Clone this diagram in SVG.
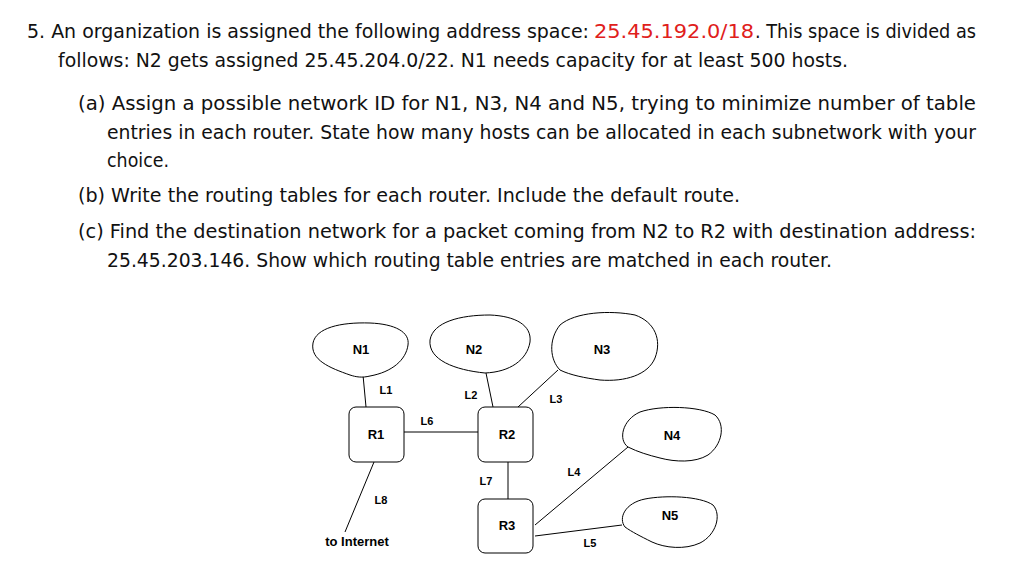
<svg xmlns="http://www.w3.org/2000/svg" width="1024" height="572" viewBox="0 0 1024 572">
<style>
.t{font-family:"DejaVu Sans","Liberation Sans",sans-serif;font-size:19px;fill:#111}
.r{fill:#e0201b}
.n{font-family:"Liberation Sans",Arial,sans-serif;font-size:13px;font-weight:bold;text-anchor:middle;fill:#000}
.l{font-family:"Liberation Sans",Arial,sans-serif;font-size:11px;font-weight:bold;text-anchor:middle;fill:#000}
.b{fill:#fff;stroke:#000;stroke-width:1}
.c line{stroke:#000;stroke-width:1}
</style>
<rect width="1024" height="572" fill="#fff"/>
<text class="t" x="27" y="38" textLength="562" lengthAdjust="spacingAndGlyphs">5. An organization is assigned the following address space:</text>
<text class="t r" x="594" y="38" textLength="160" lengthAdjust="spacingAndGlyphs">25.45.192.0/18</text>
<text class="t" x="755" y="38" textLength="221" lengthAdjust="spacingAndGlyphs">. This space is divided as</text>
<text class="t" x="58" y="67" textLength="790" lengthAdjust="spacingAndGlyphs">follows: N2 gets assigned 25.45.204.0/22. N1 needs capacity for at least 500 hosts.</text>
<text class="t" x="78" y="110" textLength="898" lengthAdjust="spacingAndGlyphs">(a) Assign a possible network ID for N1, N3, N4 and N5, trying to minimize number of table</text>
<text class="t" x="107" y="139" textLength="869" lengthAdjust="spacingAndGlyphs">entries in each router. State how many hosts can be allocated in each subnetwork with your</text>
<text class="t" x="107" y="167" textLength="62" lengthAdjust="spacingAndGlyphs">choice.</text>
<text class="t" x="78" y="202" textLength="662" lengthAdjust="spacingAndGlyphs">(b) Write the routing tables for each router. Include the default route.</text>
<text class="t" x="78" y="238" textLength="898" lengthAdjust="spacingAndGlyphs">(c) Find the destination network for a packet coming from N2 to R2 with destination address:</text>
<text class="t" x="107" y="267" textLength="725" lengthAdjust="spacingAndGlyphs">25.45.203.146. Show which routing table entries are matched in each router.</text>
<g class="c" id="connectors">
<line x1="363" y1="375" x2="366" y2="407"/>
<line x1="486" y1="373" x2="493" y2="407"/>
<line x1="558" y1="370" x2="518" y2="407"/>
<line x1="404" y1="432" x2="478" y2="432"/>
<line x1="508" y1="462" x2="508" y2="499"/>
<line x1="628" y1="447" x2="535" y2="525"/>
<line x1="535" y1="536" x2="622" y2="525"/>
<line x1="374" y1="462" x2="345" y2="532"/>
<text class="l" x="386" y="394">L1</text>
<text class="l" x="471" y="399">L2</text>
<text class="l" x="556" y="403">L3</text>
<text class="l" x="427" y="425">L6</text>
<text class="l" x="486" y="485">L7</text>
<text class="l" x="574" y="476">L4</text>
<text class="l" x="381" y="504">L8</text>
<text class="l" x="590" y="547">L5</text>
</g>
<g id="N1"><path class="b" d="M350,375 C330,368 310,360 313,343 C316,328 340,322 370,323 C395,324 410,332 408,345 C406,360 392,372 370,376 C362,378 356,377 350,375 Z"/><text class="n" x="361" y="354">N1</text></g>
<g id="N2"><path class="b" d="M485,373 C455,370 428,360 430,340 C433,322 460,315 490,315 C515,316 532,325 530,342 C527,360 510,372 485,373 Z"/><text class="n" x="474" y="354">N2</text></g>
<g id="N3"><path class="b" d="M560,370 C550,360 548,340 560,325 C575,312 610,310 635,315 C655,322 662,340 655,358 C648,375 625,382 600,380 C585,378 570,375 560,370 Z"/><text class="n" x="602" y="354">N3</text></g>
<g id="N4"><path class="b" d="M628,447 C618,440 622,420 640,412 C660,405 700,406 715,415 C726,425 722,445 708,455 C695,463 675,462 660,458 C648,455 638,452 628,447 Z"/><text class="n" x="672" y="440">N4</text></g>
<g id="N5"><path class="b" d="M625,527 C618,518 625,503 645,499 C665,495 700,496 713,505 C722,515 716,535 700,543 C685,550 665,548 652,542 C640,536 632,532 625,527 Z"/><text class="n" x="670" y="520">N5</text></g>
<g id="R1"><rect class="b" x="349" y="407" width="55" height="55" rx="7"/><text class="n" x="376" y="439">R1</text></g>
<g id="R2"><rect class="b" x="478" y="407" width="55" height="55" rx="7"/><text class="n" x="507" y="439">R2</text></g>
<g id="R3"><rect class="b" x="478" y="499" width="55" height="54" rx="7"/><text class="n" x="507" y="530">R3</text></g>
<g id="Internet"><text class="n" x="357" y="546">to Internet</text></g>
</svg>
